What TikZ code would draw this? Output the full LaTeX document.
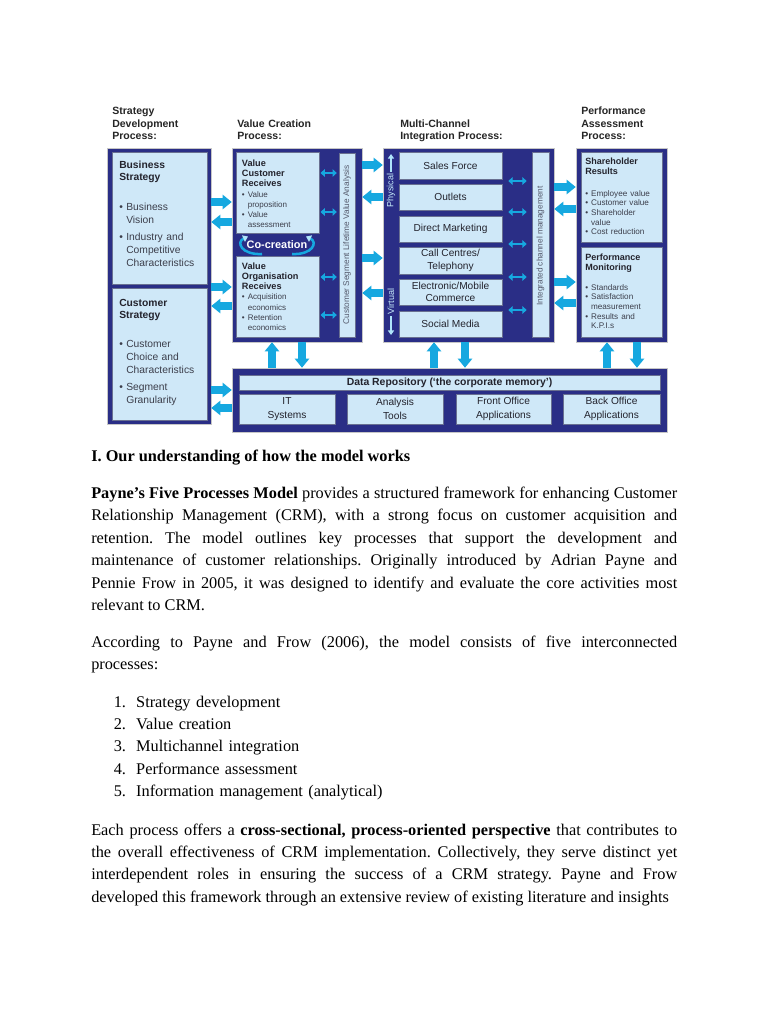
\documentclass[tikz,border=0pt]{standalone}
\usepackage{fontspec}
\setmainfont{Liberation Serif}
\newfontfamily\dsans{Liberation Sans}
\usetikzlibrary{arrows.meta,fit}
\definecolor{navy}{RGB}{42,46,134}
\definecolor{lightbox}{RGB}{207,232,248}
\definecolor{boxedge}{RGB}{105,112,145}
\definecolor{arrowc}{RGB}{22,168,224}
\definecolor{paleblue}{RGB}{175,228,250}
\definecolor{txtd}{RGB}{35,35,45}
\definecolor{txtg}{RGB}{60,62,75}
\definecolor{bartxt}{RGB}{85,90,108}
\newcommand{\myBul}{\textbullet\ }
\newcommand{\myInd}{\phantom{\textbullet\ }}
\frenchspacing
\begin{document}
\begin{tikzpicture}[x=0.796875pt,y=-0.796875pt,
  outerbox/.style={draw=gray!45, line width=0.4pt, fill=navy, inner sep=0pt},
  innerbox/.style={draw=boxedge, line width=0.5pt, fill=lightbox, inner sep=0pt},
  ctext/.style={inner sep=0pt, align=center, font=\dsans\fontsize{8.1}{10}\selectfont, text=txtd},
  headtxt/.style={anchor=base west, inner sep=0pt, text width=110pt, align=left, font=\dsans\bfseries\fontsize{8.4}{9.96}\selectfont, text=black!85},
  boxtxt/.style={anchor=base west, inner sep=0pt, text width=80pt, align=left, text=txtg},
  bartext/.style={rotate=90, inner sep=0pt, font=\dsans\fontsize{6.6}{8}\selectfont, text=bartxt},
  chantag/.style={rotate=90, inner sep=0pt, font=\dsans\fontsize{7.2}{8}\selectfont, text=paleblue!70!white},
  barrow/.style={draw=arrowc, line width=5.6pt, -{Triangle[length=7.2pt,width=11.2pt]}},
  darrow/.style={draw=arrowc, line width=2pt, {Triangle[length=3.4pt,width=6pt]}-{Triangle[length=3.4pt,width=6pt]}},
  thinarrow/.style={draw=paleblue, line width=1.3pt, -{Triangle[length=3.6pt,width=4.8pt]}},
  bodytxt/.style={anchor=base west, inner sep=0pt, text width=467pt, align=justify, font=\fontsize{13}{17.85}\selectfont, text=black},
]
\path[fill=white] (0,0) rectangle (768,1024);
\useasboundingbox (0,0) rectangle (768,1024);

% ---------- headings ----------
\node[headtxt] (h1) at (112,114.8) {Strategy\\Development\\Process:};
\node[headtxt] (h2) at (237,127.3) {Value Creation\\Process:};
\node[headtxt] (h3) at (400,127.3) {Multi-Channel\\Integration Process:};
\node[headtxt] (h4) at (581,114.8) {Performance\\Assessment\\Process:};

% ---------- outer boxes ----------
\node[outerbox, fit={(107,148)(211,424)}] (sdp) {};
\node[outerbox, fit={(232,148)(362,342)}] (vcp) {};
\node[outerbox, fit={(383,148)(554,342)}] (mcp) {};
\node[outerbox, fit={(576,148)(667,342)}] (pap) {};
\node[outerbox, fit={(232,368)(667,432)}] (dr) {};

% ---------- strategy ----------
\node[innerbox, fit={(112,152)(207,284)}] (bs) {};
\node[innerbox, fit={(112,288)(207,420)}] (cs) {};
\node[boxtxt, font=\dsans\fontsize{8.2}{10.2}\selectfont] (bst) at (119,168.1)
  {\textcolor{txtd}{\textbf{Business}}\\\textcolor{txtd}{\textbf{Strategy}}\\[13.4pt]\myBul Business\\\myInd Vision\\[3.7pt]\myBul Industry and\\\myInd Competitive\\\myInd Characteristics};
\node[boxtxt, font=\dsans\fontsize{8.2}{10.2}\selectfont] (cst) at (119,306.1)
  {\textcolor{txtd}{\textbf{Customer}}\\\textcolor{txtd}{\textbf{Strategy}}\\[12.9pt]\myBul Customer\\\myInd Choice and\\\myInd Characteristics\\[3.4pt]\myBul Segment\\\myInd Granularity};

% ---------- value creation ----------
\node[innerbox, fit={(236,152)(319,233)}] (vcr) {};
\node[innerbox, fit={(236,256)(319,337)}] (vor) {};
\node[innerbox, fit={(339,153)(355,337)}] (cslva) {};
\node[boxtxt, font=\dsans\fontsize{7.3}{8.1}\selectfont] (vcrt) at (241.7,166.6)
  {\textcolor{txtd}{\textbf{Value}}\\\textcolor{txtd}{\textbf{Customer}}\\\textcolor{txtd}{\textbf{Receives}}\\\fontsize{6.4}{8.1}\selectfont\myBul Value\\\myInd proposition\\\myBul Value\\\myInd assessment};
\node[boxtxt, font=\dsans\fontsize{7.3}{8.2}\selectfont] (vort) at (241.7,269)
  {\textcolor{txtd}{\textbf{Value}}\\\textcolor{txtd}{\textbf{Organisation}}\\\textcolor{txtd}{\textbf{Receives}}\\\fontsize{6.4}{8.2}\selectfont\myBul Acquisition\\\myInd economics\\\myBul Retention\\\myInd economics};
\node[bartext] (cslvat) at (347,245) {Customer Segment Lifetime Value Analysis};
\node[font=\dsans\bfseries\fontsize{8.7}{10}\selectfont, text=white, inner sep=0pt] (cocr) at (277,244.5) {Co-creation};
\draw[arrowc, line width=2pt, -{Triangle[length=4pt,width=5.5pt,color=paleblue]}]
  (262,254) .. controls (241,255) and (236,242) .. (248,236.5);
\draw[arrowc, line width=2pt, -{Triangle[length=4pt,width=5.5pt,color=paleblue]}]
  (292,254) .. controls (313,255) and (318,242) .. (306,236.5);

% ---------- multi-channel ----------
\node[innerbox, fit={(399,152)(502,179)}] (sf) {};
\node[innerbox, fit={(399,184)(502,210)}] (out) {};
\node[innerbox, fit={(399,216)(502,242)}] (dm) {};
\node[innerbox, fit={(399,247)(502,274)}] (cc) {};
\node[innerbox, fit={(399,279)(502,305)}] (em) {};
\node[innerbox, fit={(399,311)(502,337)}] (sm) {};
\node[ctext] (sft) at (sf.center) {Sales Force};
\node[ctext] (outt) at (out.center) {Outlets};
\node[ctext] (dmt) at (dm.center) {Direct Marketing};
\node[ctext] (cct) at (cc.center) {Call Centres/\\Telephony};
\node[ctext] (emt) at (em.center) {Electronic/Mobile\\Commerce};
\node[ctext] (smt) at (sm.center) {Social Media};
\node[innerbox, fit={(532,152)(549,337)}] (icm) {};
\node[bartext] (icmt) at (540.5,246) {Integrated channel management};
\node[chantag] (phys) at (391,190.5) {Physical};
\node[chantag] (virt) at (391,301.5) {Virtual};
\coordinate (physTop) at (391,154);
\coordinate (virtBot) at (391,335);
\draw[thinarrow, shorten <=1.5pt] (phys.east) -- (physTop);
\draw[thinarrow, shorten <=1.5pt] (virt.west) -- (virtBot);

% ---------- performance ----------
\node[innerbox, fit={(581,152)(662,242)}] (shr) {};
\node[innerbox, fit={(581,247)(662,337)}] (pm) {};
\node[boxtxt, font=\dsans\fontsize{7.2}{7.7}\selectfont] (shrt) at (585,164.9)
  {\textcolor{txtd}{\textbf{Shareholder}}\\\textcolor{txtd}{\textbf{Results}}\\[9.5pt]\fontsize{6.5}{7.7}\selectfont\myBul Employee value\\\myBul Customer value\\\myBul Shareholder\\\myInd value\\\myBul Cost reduction};
\node[boxtxt, font=\dsans\fontsize{7.2}{7.7}\selectfont] (pmt) at (585,260.5)
  {\textcolor{txtd}{\textbf{Performance}}\\\textcolor{txtd}{\textbf{Monitoring}}\\[8.2pt]\fontsize{6.5}{7.7}\selectfont\myBul Standards\\\myBul Satisfaction\\\myInd measurement\\\myBul Results and\\\myInd K.P.I.s};

% ---------- data repository ----------
\node[innerbox, fit={(239,375)(660,390)}] (drb) {};
\node[innerbox, fit={(239,394)(335,424)}] (its) {};
\node[innerbox, fit={(347,394)(443,424)}] (ant) {};
\node[innerbox, fit={(456,394)(551,424)}] (foa) {};
\node[innerbox, fit={(563,394)(660,424)}] (boa) {};
\node[ctext, font=\dsans\bfseries\fontsize{8.3}{10}\selectfont] (drt) at (drb.center) {Data Repository (‘the corporate memory’)};
\node[ctext, font=\dsans\fontsize{8.1}{11}\selectfont] (itst) at (its.center) {IT\\Systems};
\node[ctext, font=\dsans\fontsize{8.1}{11}\selectfont] (antt) at (ant.center) {Analysis\\Tools};
\node[ctext, font=\dsans\fontsize{8.1}{11}\selectfont] (foat) at (foa.center) {Front Office\\Applications};
\node[ctext, font=\dsans\fontsize{8.1}{11}\selectfont] (boat) at (boa.center) {Back Office\\Applications};

% ---------- helper rows / columns ----------
\foreach \r in {165,173,181,187,197,202,209,212,222,244,258,277,282,287,293,303,306,310,315,390,408}
  \coordinate (y\r) at (0,\r);
\foreach \c in {272,302,434,465,607,637}
  \coordinate (x\c) at (\c,0);

% ---------- block arrows ----------
\draw[barrow] (sdp.east |- y202) -- (vcp.west |- y202);
\draw[barrow] (vcp.west |- y222) -- (sdp.east |- y222);
\draw[barrow] (sdp.east |- y287) -- (vcp.west |- y287);
\draw[barrow] (vcp.west |- y306) -- (sdp.east |- y306);
\draw[barrow] (sdp.east |- y390) -- (dr.west |- y390);
\draw[barrow] (dr.west |- y408) -- (sdp.east |- y408);

\draw[barrow] (vcp.east |- y165) -- (mcp.west |- y165);
\draw[barrow] (mcp.west |- y197) -- (vcp.east |- y197);
\draw[barrow] (vcp.east |- y258) -- (mcp.west |- y258);
\draw[barrow] (mcp.west |- y293) -- (vcp.east |- y293);

\draw[barrow] (mcp.east |- y187) -- (pap.west |- y187);
\draw[barrow] (pap.west |- y209) -- (mcp.east |- y209);
\draw[barrow] (mcp.east |- y282) -- (pap.west |- y282);
\draw[barrow] (pap.west |- y303) -- (mcp.east |- y303);

\draw[barrow] (dr.north -| x272) -- (vcp.south -| x272);
\draw[barrow] (vcp.south -| x302) -- (dr.north -| x302);
\draw[barrow] (dr.north -| x434) -- (mcp.south -| x434);
\draw[barrow] (mcp.south -| x465) -- (dr.north -| x465);
\draw[barrow] (dr.north -| x607) -- (pap.south -| x607);
\draw[barrow] (pap.south -| x637) -- (dr.north -| x637);

% ---------- small double arrows ----------
\draw[darrow, shorten <=1pt, shorten >=1.5pt] (vcr.east |- y173) -- (cslva.west |- y173);
\draw[darrow, shorten <=1pt, shorten >=1.5pt] (vcr.east |- y212) -- (cslva.west |- y212);
\draw[darrow, shorten <=1pt, shorten >=1.5pt] (vor.east |- y277) -- (cslva.west |- y277);
\draw[darrow, shorten <=1pt, shorten >=1.5pt] (vor.east |- y315) -- (cslva.west |- y315);

\draw[darrow, shorten <=4.8pt, shorten >=4pt] (sf.east |- y181) -- (icm.west |- y181);
\draw[darrow, shorten <=4.8pt, shorten >=4pt] (out.east |- y212) -- (icm.west |- y212);
\draw[darrow, shorten <=4.8pt, shorten >=4pt] (dm.east |- y244) -- (icm.west |- y244);
\draw[darrow, shorten <=4.8pt, shorten >=4pt] (cc.east |- y277) -- (icm.west |- y277);
\draw[darrow, shorten <=4.8pt, shorten >=4pt] (em.east |- y310) -- (icm.west |- y310);

% ---------- body text ----------
\node[anchor=base west, inner sep=0pt, font=\bfseries\fontsize{13}{17.85}\selectfont] (sec) at (91,461)
  {I. Our understanding of how the model works};
\node[bodytxt] (p1) at (91,498.5)
  {\tolerance=10000\textbf{Payne’s Five Processes Model} provides a structured framework for enhancing Customer\linebreak
   Relationship Management (CRM), with a strong focus on customer acquisition and\linebreak
   retention. The model outlines key processes that support the development and\linebreak
   maintenance of customer relationships. Originally introduced by Adrian Payne and\linebreak
   Pennie Frow in 2005, it was designed to identify and evaluate the core activities most\linebreak
   relevant to CRM.};
\node[bodytxt] (p2) at (91,647)
  {\tolerance=10000 According to Payne and Frow (2006), the model consists of five interconnected\linebreak
   processes:};
\node[anchor=base west, inner sep=0pt, text width=320pt, align=left, font=\fontsize{13}{17.85}\selectfont] (lst) at (113.5,707)
  {\makebox[17.9pt][l]{1.}Strategy development\\
   \makebox[17.9pt][l]{2.}Value creation\\
   \makebox[17.9pt][l]{3.}Multichannel integration\\
   \makebox[17.9pt][l]{4.}Performance assessment\\
   \makebox[17.9pt][l]{5.}Information management (analytical)};
\node[bodytxt] (p3) at (91,835)
  {\tolerance=10000\parfillskip=0pt Each process offers a \textbf{cross-sectional, process-oriented perspective} that contributes to\linebreak
   the overall effectiveness of CRM implementation. Collectively, they serve distinct yet\linebreak
   interdependent roles in ensuring the success of a CRM strategy. Payne and Frow\linebreak
   developed this framework through an extensive review of existing literature and insights};
\end{tikzpicture}
\end{document}
